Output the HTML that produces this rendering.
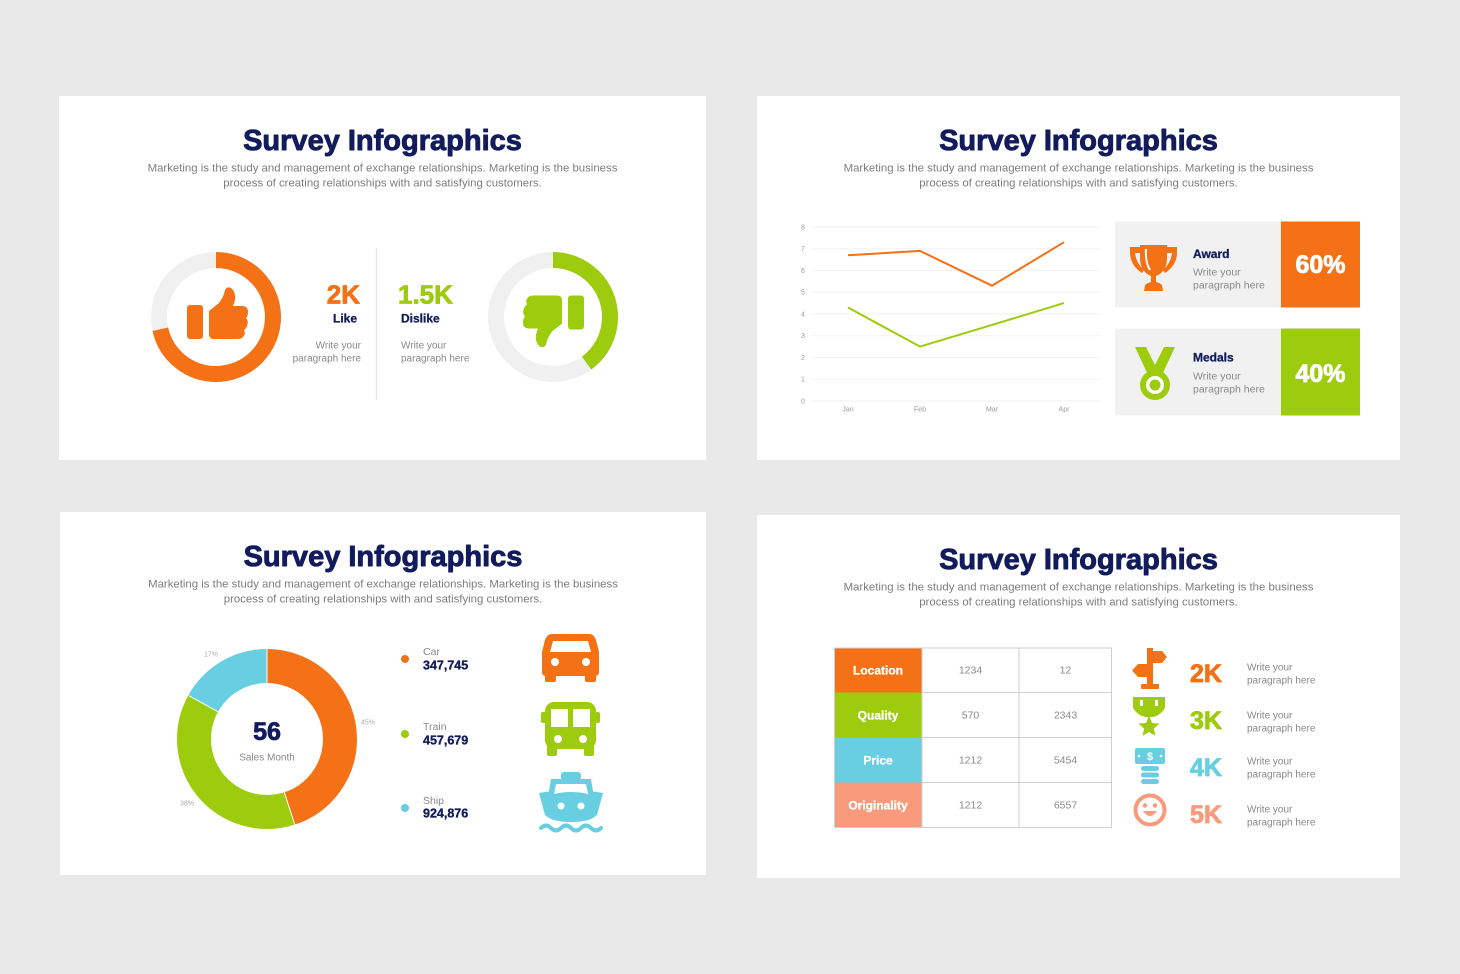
<!DOCTYPE html>
<html><head><meta charset="utf-8">
<style>
html,body{margin:0;padding:0}
body{width:1460px;height:974px;background:#e9e9e9;position:relative;overflow:hidden;font-family:"Liberation Sans",sans-serif}
svg{position:absolute;left:0;top:0}
</style></head>
<body>
<svg width="1460" height="974" viewBox="0 0 1460 974" xmlns="http://www.w3.org/2000/svg" font-family="'Liberation Sans', sans-serif">
<!-- panels -->
<rect x="59" y="96" width="647" height="364" fill="#fff"/>
<rect x="757" y="96" width="643" height="364" fill="#fff"/>
<rect x="60" y="512" width="646" height="363" fill="#fff"/>
<rect x="757" y="515" width="643" height="363" fill="#fff"/>

<!-- titles -->
<g font-size="29" font-weight="bold" fill="#121c5c" stroke="#121c5c" stroke-width="0.9" stroke-linejoin="round" text-anchor="middle">
<text x="382.5" y="150">Survey Infographics</text>
<text x="1078.5" y="150">Survey Infographics</text>
<text x="383" y="566">Survey Infographics</text>
<text x="1078.5" y="569">Survey Infographics</text>
</g>
<g font-size="11.4" fill="#7d7d7d" text-anchor="middle">
<text x="382.5" y="171.5">Marketing is the study and management of exchange relationships. Marketing is the business</text>
<text x="382.5" y="186.5">process of creating relationships with and satisfying customers.</text>
<text x="1078.5" y="171.5">Marketing is the study and management of exchange relationships. Marketing is the business</text>
<text x="1078.5" y="186.5">process of creating relationships with and satisfying customers.</text>
<text x="383" y="587.5">Marketing is the study and management of exchange relationships. Marketing is the business</text>
<text x="383" y="602.5">process of creating relationships with and satisfying customers.</text>
<text x="1078.5" y="590.5">Marketing is the study and management of exchange relationships. Marketing is the business</text>
<text x="1078.5" y="605.5">process of creating relationships with and satisfying customers.</text>
</g>

<!-- ===== TL panel ===== -->
<circle cx="216" cy="317" r="57" fill="none" stroke="#f0f0f0" stroke-width="16"/>
<circle cx="216" cy="317" r="57" fill="none" stroke="#f47115" stroke-width="16" stroke-dasharray="256 400" transform="rotate(-90 216 317)"/>
<circle cx="553" cy="317" r="57" fill="none" stroke="#f0f0f0" stroke-width="16"/>
<circle cx="553" cy="317" r="57" fill="none" stroke="#9dcb0e" stroke-width="16" stroke-dasharray="143 400" transform="rotate(-90 553 317)"/>
<g fill="#f47115">
<rect x="187" y="305" width="16" height="34" rx="3"/>
<path d="M209,311 L219,303 Q224,296 225,290 Q227,286 231,288 Q236,292 235,300 L233,306 H242 Q248,306 248,312 Q248,316 246,318 Q249,321 247,326 Q246,329 244,330 Q246,334 243,337 Q241,339 238,339 H214 Q209,339 209,334 Z"/>
</g>
<g fill="#9dcb0e" transform="translate(553.5 321) rotate(180) translate(-217.5 -313.5)">
<rect x="187" y="305" width="16" height="34" rx="3"/>
<path d="M209,311 L219,303 Q224,296 225,290 Q227,286 231,288 Q236,292 235,300 L233,306 H242 Q248,306 248,312 Q248,316 246,318 Q249,321 247,326 Q246,329 244,330 Q246,334 243,337 Q241,339 238,339 H214 Q209,339 209,334 Z"/>
</g>
<line x1="376.5" y1="248" x2="376.5" y2="400" stroke="#e6e6e6" stroke-width="1.5"/>
<text x="360" y="303.3" font-size="26" font-weight="bold" fill="#f47115" stroke="#f47115" stroke-width="0.8" stroke-linejoin="round" text-anchor="end">2K</text>
<text x="357" y="322.3" font-size="12" font-weight="bold" fill="#121c5c" stroke="#121c5c" stroke-width="0.3" text-anchor="end">Like</text>
<g font-size="10" fill="#8a8a8a" text-anchor="end">
<text x="361" y="348.5">Write your</text>
<text x="361" y="361.5">paragraph here</text>
</g>
<text x="398" y="303.3" font-size="26" font-weight="bold" fill="#9dcb0e" stroke="#9dcb0e" stroke-width="0.8" stroke-linejoin="round">1.5K</text>
<text x="401" y="322.3" font-size="12" font-weight="bold" fill="#121c5c" stroke="#121c5c" stroke-width="0.3">Dislike</text>
<g font-size="10" fill="#8a8a8a">
<text x="401" y="348.5">Write your</text>
<text x="401" y="361.5">paragraph here</text>
</g>

<!-- ===== TR panel ===== -->
<g stroke="#f2f2f2" stroke-width="1">
<line x1="812" y1="227" x2="1100" y2="227"/>
<line x1="812" y1="248.75" x2="1100" y2="248.75"/>
<line x1="812" y1="270.5" x2="1100" y2="270.5"/>
<line x1="812" y1="292.25" x2="1100" y2="292.25"/>
<line x1="812" y1="314" x2="1100" y2="314"/>
<line x1="812" y1="335.75" x2="1100" y2="335.75"/>
<line x1="812" y1="357.5" x2="1100" y2="357.5"/>
<line x1="812" y1="379.25" x2="1100" y2="379.25"/>
<line x1="812" y1="401" x2="1100" y2="401"/>
</g>
<g font-size="7" fill="#9a9a9a" text-anchor="middle">
<text x="803" y="229.5">8</text>
<text x="803" y="251.2">7</text>
<text x="803" y="273">6</text>
<text x="803" y="294.7">5</text>
<text x="803" y="316.5">4</text>
<text x="803" y="338.2">3</text>
<text x="803" y="360">2</text>
<text x="803" y="381.7">1</text>
<text x="803" y="403.5">0</text>
<text x="848" y="411.5">Jan</text>
<text x="920" y="411.5">Feb</text>
<text x="992" y="411.5">Mar</text>
<text x="1064" y="411.5">Apr</text>
</g>
<polyline points="848,255.3 920,250.9 992,285.7 1064,242.2" fill="none" stroke="#f47115" stroke-width="2"/>
<polyline points="848,307.5 920,346.6 992,324.9 1064,303.1" fill="none" stroke="#9dcb0e" stroke-width="2"/>

<rect x="1115" y="221.5" width="166" height="86" fill="#f1f1f1"/>
<rect x="1281" y="221.5" width="79" height="86" fill="#f47115"/>
<rect x="1115" y="328.5" width="166" height="87" fill="#f1f1f1"/>
<rect x="1281" y="328.5" width="79" height="87" fill="#9dcb0e"/>
<!-- trophy -->
<g fill="#f47115">
<path d="M1140,245 H1167 V260 Q1166,272 1156,276 V282 Q1160,283 1162,285 L1163,291 H1144 L1145,285 Q1147,283 1151,282 V276 Q1141,272 1140,260 Z"/>
<path d="M1130,247 H1141 V253 H1135 Q1136,263 1144,270 L1142,273 Q1131,266 1130,254 Z"/>
<path d="M1177,247 H1166 V253 H1172 Q1171,263 1163,270 L1165,273 Q1176,266 1177,254 Z"/>
</g>
<path d="M1146,249 Q1145,262 1150,270" fill="none" stroke="#fff" stroke-width="2"/>
<!-- medal -->
<g fill="#9dcb0e">
<polygon points="1135,347 1146,347 1155,365 1164,347 1175,347 1161,377 1149,377"/>
<circle cx="1155" cy="385" r="15"/>
</g>
<circle cx="1155" cy="385" r="9" fill="#fff"/>
<circle cx="1155" cy="385" r="5.5" fill="#9dcb0e"/>
<g font-size="12" font-weight="bold" fill="#121c5c" stroke="#121c5c" stroke-width="0.3">
<text x="1193" y="258">Award</text>
<text x="1193" y="361.3">Medals</text>
</g>
<g font-size="10.5" fill="#8a8a8a">
<text x="1193" y="275.5">Write your</text>
<text x="1193" y="288.5">paragraph here</text>
<text x="1193" y="379.5">Write your</text>
<text x="1193" y="392.5">paragraph here</text>
</g>
<g font-size="25" font-weight="bold" fill="#fff" stroke="#fff" stroke-width="0.8" stroke-linejoin="round" text-anchor="middle">
<text x="1320.5" y="273">60%</text>
<text x="1320.5" y="382">40%</text>
</g>

<!-- ===== BL panel ===== -->
<g fill="none" stroke-width="34" transform="rotate(-90 267 739)">
<circle cx="267" cy="739" r="73" stroke="#f47115" stroke-dasharray="206.4 500"/>
<circle cx="267" cy="739" r="73" stroke="#9dcb0e" stroke-dasharray="174.3 500" stroke-dashoffset="-206.4"/>
<circle cx="267" cy="739" r="73" stroke="#67cfe1" stroke-dasharray="78 500" stroke-dashoffset="-380.7"/>
</g>
<g stroke="#fff" stroke-width="1">
<line x1="267" y1="683" x2="267" y2="649"/>
<line x1="284.3" y1="792.3" x2="294.8" y2="824.6"/>
<line x1="218.6" y1="712.1" x2="188.9" y2="695.7"/>
</g>
<g font-size="7" fill="#aaa" text-anchor="middle">
<text x="211" y="656.5">17%</text>
<text x="368" y="724.5">45%</text>
<text x="187" y="805.5">38%</text>
</g>
<text x="267" y="740" font-size="25" font-weight="bold" fill="#121c5c" stroke="#121c5c" stroke-width="0.8" stroke-linejoin="round" text-anchor="middle">56</text>
<text x="267" y="760.5" font-size="10" fill="#8a8a8a" text-anchor="middle">Sales Month</text>
<circle cx="405" cy="659" r="4" fill="#f47115"/>
<circle cx="405" cy="734" r="4" fill="#9dcb0e"/>
<circle cx="405" cy="808" r="4" fill="#67cfe1"/>
<g font-size="10.5" fill="#8a8a8a">
<text x="423" y="655">Car</text>
<text x="423" y="730">Train</text>
<text x="423" y="804">Ship</text>
</g>
<g font-size="12.5" font-weight="bold" fill="#121c5c" stroke="#121c5c" stroke-width="0.35">
<text x="423" y="669.5">347,745</text>
<text x="423" y="744.5">457,679</text>
<text x="423" y="817.5">924,876</text>
</g>
<!-- car -->
<g fill="#f47115">
<path d="M552,634 H589 Q594,634 596,640 L599,652 V672 Q599,676 595,676 H546 Q542,676 542,672 V652 L545,640 Q547,634 552,634 Z"/>
<rect x="545" y="672" width="11" height="10" rx="2"/>
<rect x="585" y="672" width="11" height="10" rx="2"/>
</g>
<g fill="#fff">
<path d="M553,641 H588 L591,652 H550 Z"/>
<circle cx="555" cy="662" r="4"/>
<circle cx="586" cy="662" r="4"/>
</g>
<!-- train -->
<g fill="#9dcb0e">
<rect x="545" y="702" width="51" height="47" rx="9"/>
<rect x="541" y="712" width="5" height="11" rx="2"/>
<rect x="595" y="712" width="5" height="11" rx="2"/>
<rect x="547" y="745" width="10" height="11" rx="2"/>
<rect x="584" y="745" width="10" height="11" rx="2"/>
</g>
<g fill="#fff">
<rect x="551" y="709" width="17" height="18"/>
<rect x="573" y="709" width="17" height="18"/>
<circle cx="558" cy="739" r="4"/>
<circle cx="583" cy="739" r="4"/>
</g>
<!-- ship -->
<g fill="#67cfe1">
<rect x="561" y="772" width="20" height="8" rx="3"/>
<path d="M551,779 H591 L594,797 H548 Z"/>
<path d="M539,793 Q571,787 603,793 L597,815 Q590,822 571,822 Q552,822 545,815 Z"/>
</g>
<path d="M556,784 H586 L588,794 Q571,790 554,794 Z" fill="#fff"/>
<circle cx="561" cy="806" r="3.5" fill="#fff"/>
<circle cx="581" cy="806" r="3.5" fill="#fff"/>
<path d="M541,828 q5,-5 10,0 t10,0 t10,0 t10,0 t10,0 t10,0" fill="none" stroke="#67cfe1" stroke-width="4" stroke-linecap="round"/>

<!-- ===== BR panel ===== -->
<rect x="834" y="648" width="88" height="44.5" fill="#f47115"/>
<rect x="834" y="692.5" width="88" height="45" fill="#9dcb0e"/>
<rect x="834" y="737.5" width="88" height="45" fill="#67cfe1"/>
<rect x="834" y="782.5" width="88" height="45" fill="#f99a7c"/>
<g stroke="#cfcfcf" stroke-width="1" fill="none">
<rect x="834.5" y="648" width="277" height="179.5"/>
<line x1="922" y1="648" x2="922" y2="827.5"/>
<line x1="1019" y1="648" x2="1019" y2="827.5"/>
<line x1="922" y1="692.5" x2="1111.5" y2="692.5"/>
<line x1="922" y1="737.5" x2="1111.5" y2="737.5"/>
<line x1="922" y1="782.5" x2="1111.5" y2="782.5"/>
</g>
<g font-size="12" font-weight="bold" fill="#fff" stroke="#fff" stroke-width="0.3" text-anchor="middle">
<text x="878" y="674.3">Location</text>
<text x="878" y="719.3">Quality</text>
<text x="878" y="764.3">Price</text>
<text x="878" y="809.3">Originality</text>
</g>
<g font-size="10.5" fill="#8a8a8a" text-anchor="middle">
<text x="970.5" y="673.7">1234</text>
<text x="1065.5" y="673.7">12</text>
<text x="970.5" y="718.7">570</text>
<text x="1065.5" y="718.7">2343</text>
<text x="970.5" y="763.7">1212</text>
<text x="1065.5" y="763.7">5454</text>
<text x="970.5" y="808.7">1212</text>
<text x="1065.5" y="808.7">6557</text>
</g>
<!-- signpost -->
<g fill="#f47115">
<rect x="1147" y="648" width="6" height="40"/>
<rect x="1141" y="684" width="18" height="5" rx="1"/>
<path d="M1147,651 H1162 L1167,657 L1162,663 H1147 Z"/>
<path d="M1153,664 H1138 L1132,670.5 L1138,677 H1153 Z"/>
</g>
<!-- trophy star -->
<g fill="#9dcb0e">
<path d="M1133,697 H1165 V708 Q1160,716 1152,717 H1146 Q1138,716 1133,708 Z"/>
<polygon points="1149,715 1151.9,723 1159.5,723.6 1153.8,728.5 1155.5,735.9 1149,732 1142.5,735.9 1144.2,728.5 1138.5,723.6 1146.1,723"/>
</g>
<rect x="1140" y="700" width="3" height="6" fill="#fff"/>
<rect x="1155" y="700" width="3" height="6" fill="#fff"/>
<!-- money -->
<g fill="#67cfe1">
<rect x="1135" y="748" width="30" height="16" rx="2"/>
<rect x="1141" y="766" width="18" height="5" rx="2.5"/>
<rect x="1141" y="772.5" width="18" height="5" rx="2.5"/>
<rect x="1141" y="779" width="18" height="5" rx="2.5"/>
</g>
<text x="1150" y="760" font-size="11" font-weight="bold" fill="#fff" text-anchor="middle">$</text>
<circle cx="1139" cy="756" r="1.3" fill="#fff"/>
<circle cx="1161" cy="756" r="1.3" fill="#fff"/>
<!-- smiley -->
<circle cx="1150" cy="810" r="14.5" fill="none" stroke="#f99a7c" stroke-width="4"/>
<circle cx="1145" cy="805.5" r="2.2" fill="#f99a7c"/>
<circle cx="1155" cy="805.5" r="2.2" fill="#f99a7c"/>
<path d="M1143,811 Q1150,821 1157,811 Z" fill="#f99a7c"/>
<g font-size="25" font-weight="bold" stroke-width="0.8" stroke-linejoin="round">
<text x="1190" y="682" fill="#f47115" stroke="#f47115">2K</text>
<text x="1190" y="729" fill="#9dcb0e" stroke="#9dcb0e">3K</text>
<text x="1190" y="776" fill="#67cfe1" stroke="#67cfe1">4K</text>
<text x="1190" y="823" fill="#f99a7c" stroke="#f99a7c">5K</text>
</g>
<g font-size="10" fill="#8a8a8a">
<text x="1247" y="670.5">Write your</text>
<text x="1247" y="683.5">paragraph here</text>
<text x="1247" y="718.5">Write your</text>
<text x="1247" y="731.5">paragraph here</text>
<text x="1247" y="764.5">Write your</text>
<text x="1247" y="777.5">paragraph here</text>
<text x="1247" y="812.5">Write your</text>
<text x="1247" y="825.5">paragraph here</text>
</g>
</svg>
</body></html>
